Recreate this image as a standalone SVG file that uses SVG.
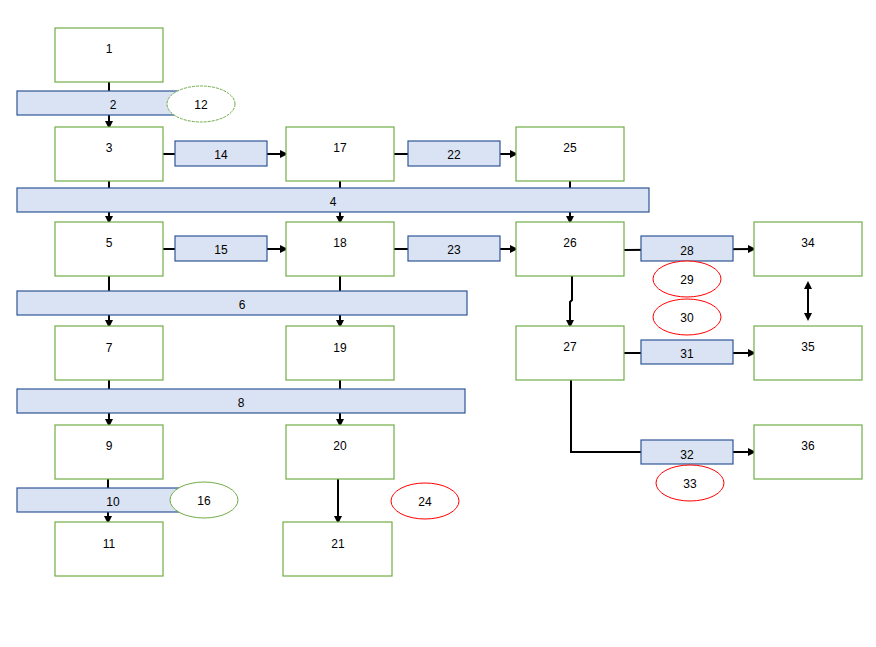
<svg xmlns="http://www.w3.org/2000/svg" width="876" height="647" viewBox="0 0 876 647">
<style>
.b{fill:#fff;stroke:#70ad47;stroke-width:1.2}
.r{fill:#dae3f3;stroke:#2f5597;stroke-width:1.2}
.eg{fill:#fff;stroke:#70ad47;stroke-width:1}
.er{fill:#fff;stroke:#ff0000;stroke-width:1}
text{font-family:"Liberation Sans",Arial,sans-serif;font-size:12px;text-anchor:middle;fill:#000}
.c line,.c path{stroke:#000;stroke-width:2;fill:none}
</style>
<defs><marker id="a" markerWidth="8" markerHeight="8" refX="6" refY="4" orient="auto-start-reverse" markerUnits="userSpaceOnUse"><path d="M0,0L8,4L0,8z" fill="#000"/></marker></defs>
<rect width="876" height="647" fill="#fff"/>
<g class="c">
<line x1="109" y1="82" x2="109" y2="127" marker-end="url(#a)"/>
<line x1="109" y1="181" x2="109" y2="222" marker-end="url(#a)"/>
<line x1="109" y1="276" x2="109" y2="326" marker-end="url(#a)"/>
<line x1="109" y1="380" x2="109" y2="425" marker-end="url(#a)"/>
<line x1="108" y1="479" x2="108" y2="522" marker-end="url(#a)"/>
<line x1="340" y1="181" x2="340" y2="222" marker-end="url(#a)"/>
<line x1="340" y1="276" x2="340" y2="326" marker-end="url(#a)"/>
<line x1="340" y1="380" x2="340" y2="425" marker-end="url(#a)"/>
<line x1="338" y1="479" x2="338" y2="522" marker-end="url(#a)"/>
<line x1="570" y1="181" x2="570" y2="222" marker-end="url(#a)"/>
<path d="M572,276V300L570,302V326" marker-end="url(#a)"/>
<line x1="163" y1="154" x2="286" y2="154" marker-end="url(#a)"/>
<line x1="394" y1="154" x2="516" y2="154" marker-end="url(#a)"/>
<line x1="163" y1="249" x2="286" y2="249" marker-end="url(#a)"/>
<line x1="394" y1="249" x2="516" y2="249" marker-end="url(#a)"/>
<line x1="624" y1="250" x2="754" y2="249" marker-end="url(#a)"/>
<line x1="624" y1="353" x2="754" y2="353" marker-end="url(#a)"/>
<path d="M571,380V452H754" marker-end="url(#a)"/>
<line x1="808" y1="283" x2="808" y2="319" marker-start="url(#a)" marker-end="url(#a)"/>
</g>
<g id="n1"><rect class="b" x="55" y="28" width="108" height="54"/><text x="109" y="53">1</text></g>
<g id="n2"><rect class="r" x="17" y="91" width="160" height="24"/><text x="113" y="109">2</text></g>
<g id="n12"><ellipse class="eg" cx="201" cy="104" rx="34" ry="18" stroke-dasharray="3,1"/><text x="201" y="109">12</text></g>
<g id="n3"><rect class="b" x="55" y="127" width="108" height="54"/><text x="109" y="152">3</text></g>
<g id="n14"><rect class="r" x="175" y="141" width="92" height="25"/><text x="221" y="159">14</text></g>
<g id="n17"><rect class="b" x="286" y="127" width="108" height="54"/><text x="340" y="152">17</text></g>
<g id="n22"><rect class="r" x="408" y="141" width="92" height="25"/><text x="454" y="159">22</text></g>
<g id="n25"><rect class="b" x="516" y="127" width="108" height="54"/><text x="570" y="152">25</text></g>
<g id="n4"><rect class="r" x="17" y="188" width="632" height="24"/><text x="333" y="206">4</text></g>
<g id="n5"><rect class="b" x="55" y="222" width="108" height="54"/><text x="109" y="247">5</text></g>
<g id="n15"><rect class="r" x="175" y="236" width="92" height="25"/><text x="221" y="254">15</text></g>
<g id="n18"><rect class="b" x="286" y="222" width="108" height="54"/><text x="340" y="247">18</text></g>
<g id="n23"><rect class="r" x="408" y="236" width="92" height="25"/><text x="454" y="254">23</text></g>
<g id="n26"><rect class="b" x="516" y="222" width="108" height="54"/><text x="570" y="247">26</text></g>
<g id="n28"><rect class="r" x="641" y="236" width="92" height="25"/><text x="687" y="255">28</text></g>
<g id="n34"><rect class="b" x="754" y="222" width="108" height="54"/><text x="808" y="247">34</text></g>
<g id="n29"><ellipse class="er" cx="687" cy="279" rx="34" ry="18"/><text x="687" y="284">29</text></g>
<g id="n30"><ellipse class="er" cx="687" cy="317" rx="34" ry="18"/><text x="687" y="322">30</text></g>
<g id="n6"><rect class="r" x="17" y="291" width="450" height="24"/><text x="242" y="309">6</text></g>
<g id="n7"><rect class="b" x="55" y="326" width="108" height="54"/><text x="109" y="352">7</text></g>
<g id="n19"><rect class="b" x="286" y="326" width="108" height="54"/><text x="340" y="352">19</text></g>
<g id="n27"><rect class="b" x="516" y="326" width="108" height="54"/><text x="570" y="351">27</text></g>
<g id="n31"><rect class="r" x="641" y="340" width="92" height="24"/><text x="687" y="358">31</text></g>
<g id="n35"><rect class="b" x="754" y="326" width="108" height="54"/><text x="808" y="351">35</text></g>
<g id="n8"><rect class="r" x="17" y="389" width="448" height="24"/><text x="241" y="407">8</text></g>
<g id="n9"><rect class="b" x="55" y="425" width="108" height="54"/><text x="109" y="450">9</text></g>
<g id="n20"><rect class="b" x="286" y="425" width="108" height="54"/><text x="340" y="450">20</text></g>
<g id="n32"><rect class="r" x="641" y="440" width="92" height="24"/><text x="687" y="459">32</text></g>
<g id="n36"><rect class="b" x="754" y="425" width="108" height="54"/><text x="808" y="450">36</text></g>
<g id="n33"><ellipse class="er" cx="690" cy="483" rx="34" ry="18"/><text x="690" y="488">33</text></g>
<g id="n10"><rect class="r" x="17" y="488" width="163" height="24"/><text x="113" y="506">10</text></g>
<g id="n16"><ellipse class="eg" cx="204" cy="500" rx="34" ry="18"/><text x="204" y="505">16</text></g>
<g id="n24"><ellipse class="er" cx="425" cy="501" rx="34" ry="18"/><text x="425" y="506">24</text></g>
<g id="n11"><rect class="b" x="55" y="522" width="108" height="54"/><text x="109" y="548">11</text></g>
<g id="n21"><rect class="b" x="283" y="522" width="109" height="54"/><text x="338" y="548">21</text></g>
</svg>
